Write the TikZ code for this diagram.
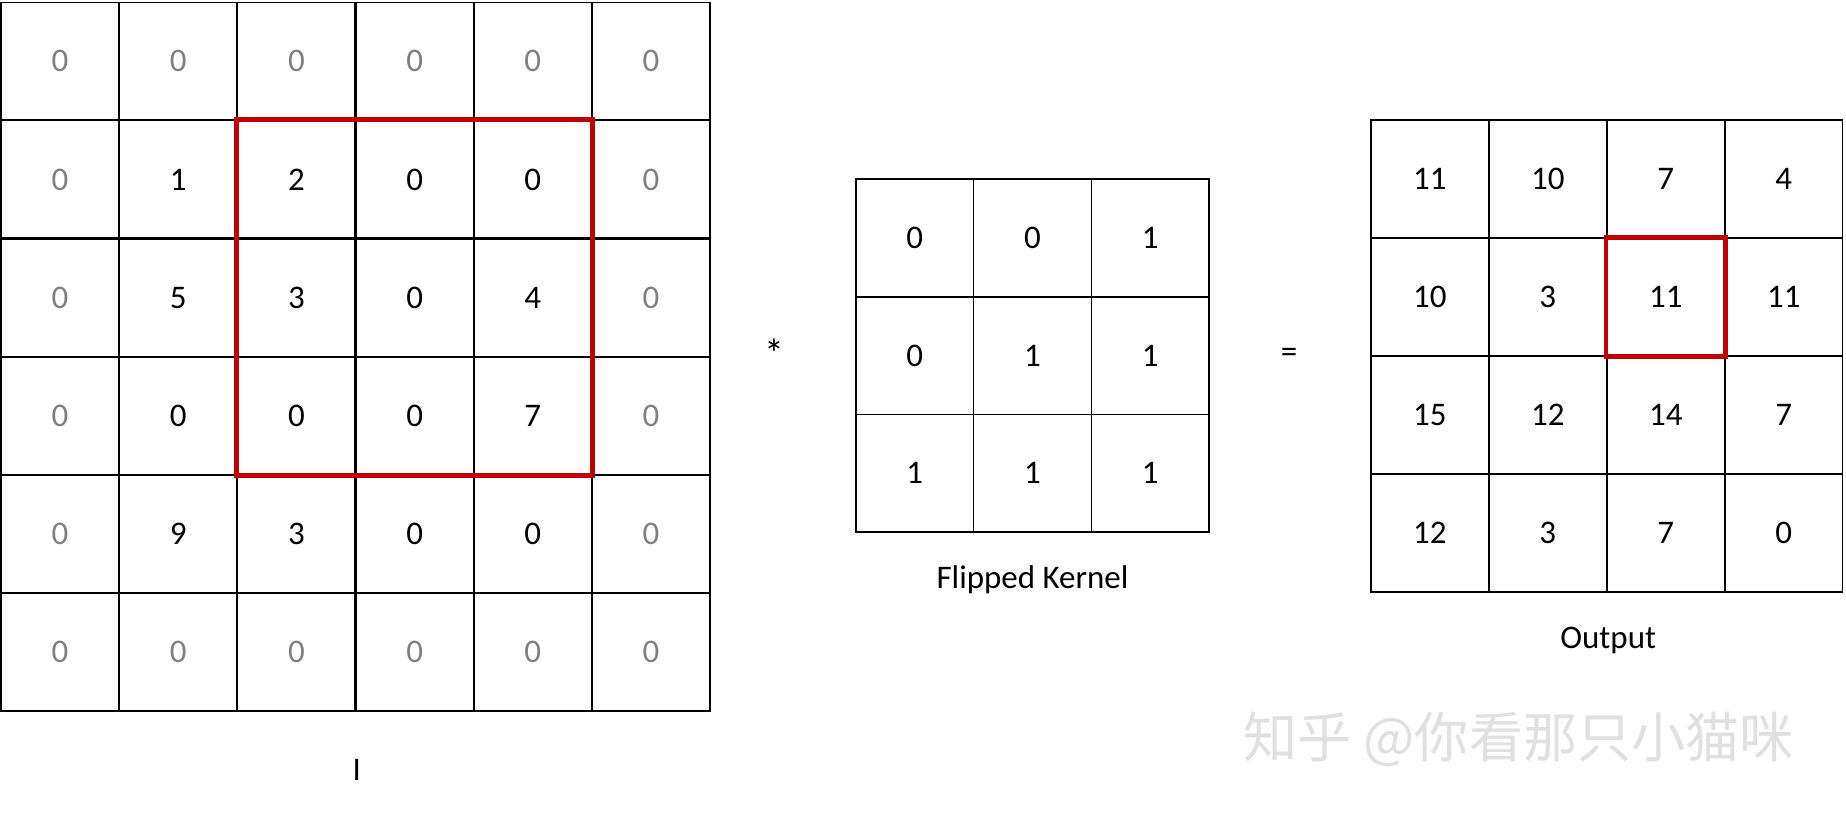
\documentclass[tikz,border=0pt]{standalone}
\usepackage{fontspec}
\setmainfont{Carlito}
\newfontfamily\cjk{Noto Sans CJK SC}
\begin{document}
\begin{tikzpicture}[x=0.5pt,y=-0.5pt,
  cell/.style={draw=black,line width=0.7pt,minimum size=50pt,inner sep=0pt,font=\fontsize{14}{16}\selectfont},
  pad/.style={text=black!50},
  redbox/.style={draw={rgb,255:red,192;green,0;blue,0},line width=2pt},
  lbl/.style={font=\fontsize{14}{16}\selectfont}]
\useasboundingbox (0,0) rectangle (1568,691);
\fill[white] (0,0) rectangle (1568,691);
\foreach \r/\vals in {0/{0,0,0,0,0,0},1/{0,1,2,0,0,0},2/{0,5,3,0,4,0},3/{0,0,0,0,7,0},4/{0,9,3,0,0,0},5/{0,0,0,0,0,0}}{
  \foreach \v [count=\c from 0] in \vals {
    \pgfmathsetmacro{\ispad}{(\r==0 || \r==5 || \c==0 || \c==5) ? 1 : 0}
    \ifdim\ispad pt>0.5pt
      \node[cell,pad] (i\r\c) at (51+100.4*\c,52+100.4*\r) {\v};
    \else
      \node[cell] (i\r\c) at (51+100.4*\c,52+100.4*\r) {\v};
    \fi
  }
}
\draw[redbox] (i12.north west) rectangle (i34.south east);
\foreach \r/\vals in {0/{0,0,1},1/{0,1,1},2/{1,1,1}}{
  \foreach \v [count=\c from 0] in \vals {
    \node[cell] (k\r\c) at (777+100*\c,202+100*\r) {\v};
  }
}
\foreach \r/\vals in {0/{11,10,7,4},1/{10,3,11,11},2/{15,12,14,7},3/{12,3,7,0}}{
  \foreach \v [count=\c from 0] in \vals {
    \node[cell] (o\r\c) at (1214.5+100.2*\c,152+100.2*\r) {\v};
  }
}
\draw[redbox] (o12.north west) rectangle (o12.south east);
\node[lbl,font=\fontsize{17}{18}\selectfont] (star) at (658,300) {*};
\node[lbl] (eq) at (1095,302) {=};
\node[lbl] (fk) at (877,492) {Flipped Kernel};
\node[lbl] (out) at (1366,544) {Output};
\node[lbl] (I) at (303,654) {I};
\node[font=\cjk\fontsize{23}{24}\selectfont,text=black!12] (wm) at (1290,628) {知乎 @你看那只小猫咪};
\end{tikzpicture}
\end{document}
